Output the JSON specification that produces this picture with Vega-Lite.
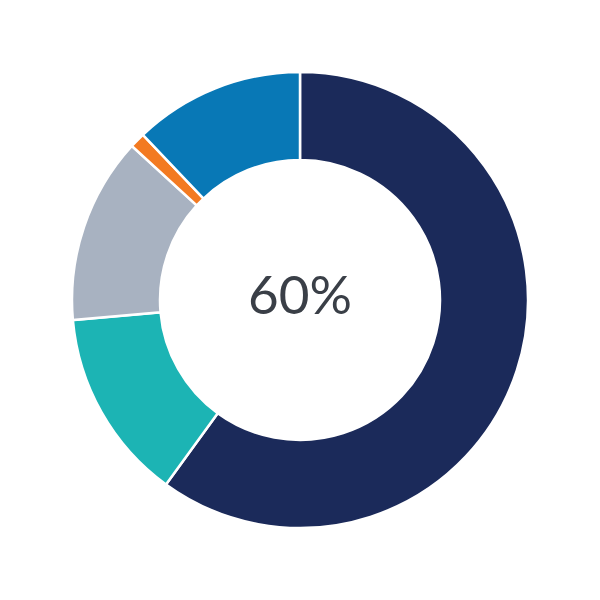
{
  "$schema": "https://vega.github.io/schema/vega-lite/v6.json",
  "width": 600,
  "height": 600,
  "padding": 0,
  "autosize": {"type": "fit", "contains": "padding"},
  "background": "white",
  "config": {"view": {"stroke": null}},
  "layer": [
    {
      "data": {
        "values": [
          {"segment": "A", "share": 60, "rank": 1},
          {"segment": "B", "share": 13.6, "rank": 2},
          {"segment": "C", "share": 13.2, "rank": 3},
          {"segment": "D", "share": 1.1, "rank": 4},
          {"segment": "E", "share": 12.1, "rank": 5}
        ]
      },
      "mark": {"type": "arc", "outerRadius": 228, "innerRadius": 140, "stroke": "white", "strokeWidth": 2.5},
      "encoding": {
        "theta": {"field": "share", "type": "quantitative", "stack": true},
        "order": {"field": "rank", "type": "quantitative"},
        "color": {
          "field": "segment",
          "type": "nominal",
          "legend": null,
          "scale": {
            "domain": ["A", "B", "C", "D", "E"],
            "range": ["#1b2a5a", "#1cb4b4", "#a8b2c1", "#f37a21", "#0878b6"]
          }
        }
      }
    },
    {
      "data": {"values": [{"label": "60%"}]},
      "mark": {"type": "text", "font": "Lato", "fontWeight": 400, "fontSize": 53, "color": "#3a3f47", "baseline": "middle", "align": "center", "dy": -2},
      "encoding": {"text": {"field": "label"}}
    }
  ]
}
